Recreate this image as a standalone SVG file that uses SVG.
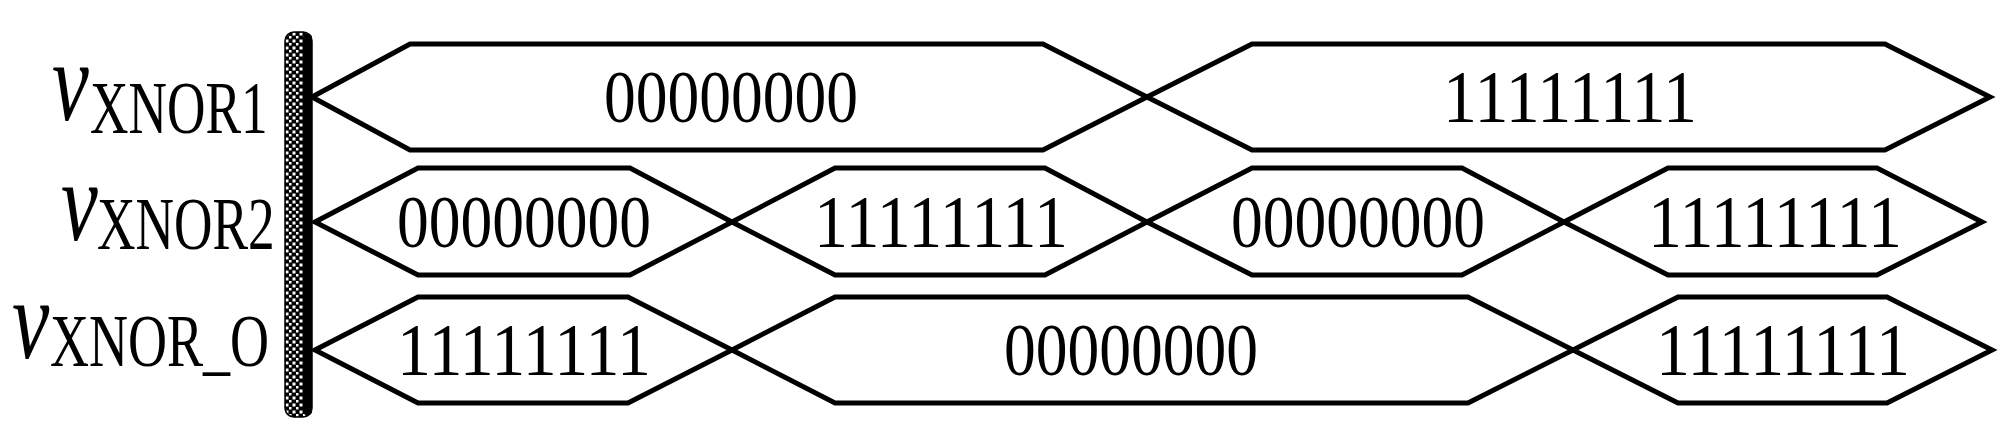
<svg xmlns="http://www.w3.org/2000/svg" width="2013" height="439" viewBox="0 0 2013 439">
<style>
.seg{fill:none;stroke:#000;stroke-width:5;stroke-linejoin:miter}
.val{font-family:"Liberation Serif","Times New Roman",serif;font-size:75px;fill:#000;text-anchor:middle}
.lab{font-family:"Liberation Serif","Times New Roman",serif;fill:#000}
.v{font-style:italic;font-size:115px}
.sub{font-style:normal;font-size:74px}
</style>
<defs>
<pattern id="chk" x="285" y="32" width="7" height="7" patternUnits="userSpaceOnUse">
<rect width="7" height="7" fill="#000"/>
<rect x="0.5" y="0.5" width="3" height="3" fill="#fff"/>
<rect x="4" y="4" width="2.5" height="2.5" fill="#fff"/>
</pattern>
</defs>
<rect width="2013" height="439" fill="#fff"/>
<g id="labels">
<g id="label1"><text class="lab" transform="translate(52,0) scale(0.72,1)"><tspan class="v" x="0" y="120">v</tspan><tspan class="sub" x="52.8" y="133">XNOR1</tspan></text></g>
<g id="label2"><text class="lab" transform="translate(61,0) scale(0.72,1)"><tspan class="v" x="0" y="240">v</tspan><tspan class="sub" x="50" y="249">XNOR2</tspan></text></g>
<g id="label3"><text class="lab" transform="translate(12,0) scale(0.73,1)"><tspan class="v" x="0" y="358">v</tspan><tspan class="sub" x="52" y="366">XNOR_O</tspan></text></g>
</g>
<g id="bar">
<rect x="285" y="32" width="27" height="385" rx="9" fill="url(#chk)" stroke="#000" stroke-width="1.5"/>
<rect x="303" y="34" width="9" height="381" rx="4" fill="#000"/>
</g>
<g id="connectors">
<g id="row1">
<g id="r1a"><polygon class="seg" points="312,97 410,44 1043,44 1147,97 1043,150 410,150"/><text class="val" x="731" y="122" textLength="254" lengthAdjust="spacingAndGlyphs">00000000</text></g>
<g id="r1b"><polygon class="seg" points="1147,97 1252,44 1885,44 1990,97 1885,150 1252,150"/><text class="val" x="1570" y="122" textLength="254" lengthAdjust="spacingAndGlyphs">11111111</text></g>
</g>
<g id="row2">
<g id="r2a"><polygon class="seg" points="315,222 418,168 630,168 732,222 630,275 418,275"/><text class="val" x="524" y="247" textLength="254" lengthAdjust="spacingAndGlyphs">00000000</text></g>
<g id="r2b"><polygon class="seg" points="732,222 835,168 1045,168 1147,222 1045,275 835,275"/><text class="val" x="941" y="247" textLength="254" lengthAdjust="spacingAndGlyphs">11111111</text></g>
<g id="r2c"><polygon class="seg" points="1147,222 1252,168 1462,168 1564,222 1462,275 1252,275"/><text class="val" x="1358" y="247" textLength="254" lengthAdjust="spacingAndGlyphs">00000000</text></g>
<g id="r2d"><polygon class="seg" points="1564,222 1668,168 1877,168 1982,222 1877,275 1668,275"/><text class="val" x="1775" y="247" textLength="254" lengthAdjust="spacingAndGlyphs">11111111</text></g>
</g>
<g id="row3">
<g id="r3a"><polygon class="seg" points="315,350 418,297 628,297 732,350 628,403 418,403"/><text class="val" x="524" y="375" textLength="254" lengthAdjust="spacingAndGlyphs">11111111</text></g>
<g id="r3b"><polygon class="seg" points="732,350 835,297 1468,297 1573,350 1468,403 835,403"/><text class="val" x="1131" y="375" textLength="254" lengthAdjust="spacingAndGlyphs">00000000</text></g>
<g id="r3c"><polygon class="seg" points="1573,350 1678,297 1887,297 1992,350 1887,403 1678,403"/><text class="val" x="1783" y="375" textLength="254" lengthAdjust="spacingAndGlyphs">11111111</text></g>
</g>
</g>
</svg>
